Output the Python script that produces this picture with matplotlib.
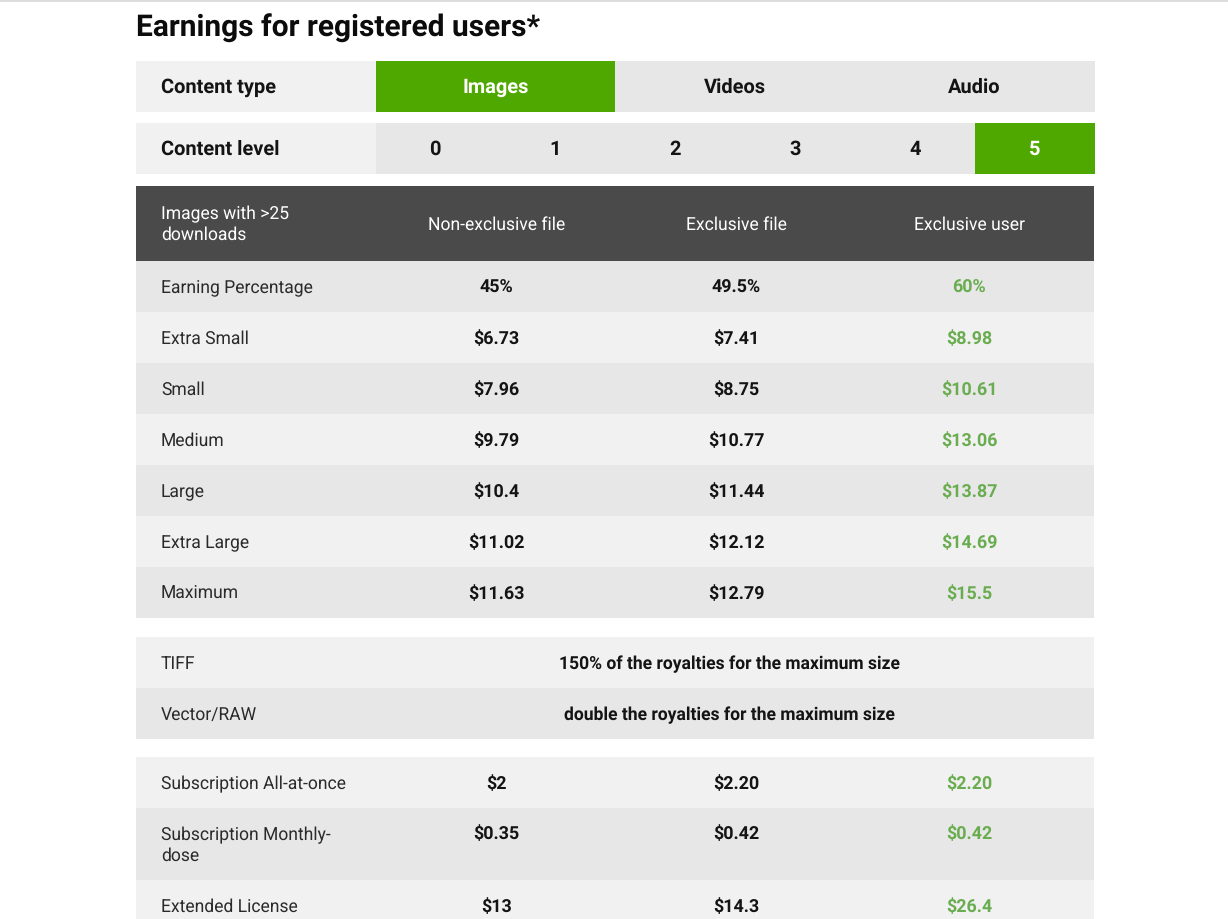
import matplotlib
matplotlib.use('Agg')
import matplotlib.pyplot as plt
from matplotlib.patches import Rectangle

plt.rcParams['font.family'] = ['Roboto', 'DejaVu Sans']
plt.rcParams['text.hinting'] = 'no_hinting'

content_types = ['Images', 'Videos', 'Audio']
content_levels = ['0', '1', '2', '3', '4', '5']
header_label = 'Images with >25\ndownloads'
columns = ['Non-exclusive file', 'Exclusive file', 'Exclusive user']

size_rows = ['Earning Percentage', 'Extra Small', 'Small', 'Medium', 'Large', 'Extra Large', 'Maximum']
non_exclusive = ['45%', '$6.73', '$7.96', '$9.79', '$10.4', '$11.02', '$11.63']
exclusive_file = ['49.5%', '$7.41', '$8.75', '$10.77', '$11.44', '$12.12', '$12.79']
exclusive_user = ['60%', '$8.98', '$10.61', '$13.06', '$13.87', '$14.69', '$15.5']

special_rows = ['TIFF', 'Vector/RAW']
special_text = ['150% of the royalties for the maximum size', 'double the royalties for the maximum size']

other_rows = ['Subscription All-at-once', 'Subscription Monthly-\ndose', 'Extended License']
other_non_exclusive = ['$2', '$0.35', '$13']
other_exclusive_file = ['$2.20', '$0.42', '$14.3']
other_exclusive_user = ['$2.20', '$0.42', '$26.4']

GREEN = '#4fa800'
TEXT_GREEN = '#6aad50'
LIGHT = '#f1f1f1'
MID = '#e7e7e7'
DARK = '#4a4a4a'
INK = '#141414'

W, H = 1228, 919
col_x = [496.5, 736, 969]
left, right = 136, 1094
label_x = 161
fs = 12.65     # plain table text
fs_val = 12.85 # values
fs_sel = 14.4  # selector rows

fig = plt.figure(figsize=(W/100, H/100), dpi=100)
ax = fig.add_axes([0, 0, 1, 1])
ax.set_xlim(0, W)
ax.set_ylim(H, 0)
ax.axis('off')


def box(x0, x1, y0, y1, color):
    ax.add_patch(Rectangle((x0, y0), x1-x0, y1-y0, facecolor=color, edgecolor='none'))


def label(x, y, s, ha='center', color=INK, weight='bold', size=fs, **kw):
    ax.text(x, y+1.5, s, ha=ha, va='center', color=color, fontweight=weight, fontsize=size, **kw)


def table_row(y0, y1, color, name, values):
    box(left, right, y0, y1, color)
    label(label_x, (y0+y1)/2, name, ha='left', color='#2a2a2a', weight='normal', linespacing=1.3)
    if values is None:
        return
    for x, v, c in zip(col_x, values, [INK, INK, TEXT_GREEN]):
        label(x, (y0+y1)/2 - (11 if '\n' in name else 0), v, color=c, size=fs_val)


# top line of the page
box(0, W, 0, 2, '#dcdcdc')
label(136, 26.5, 'Earnings for registered users*', ha='left', color='#0c0c0c', size=21.55)

# content type selector
box(left, 376, 61, 112, LIGHT)
box(376, right+1, 61, 112, MID)
box(376, 615, 61, 112, GREEN)
label(label_x, 86, 'Content type', ha='left', size=fs_sel)
for i, name in enumerate(content_types):
    x = 376 + 239.5*i + 119.5
    label(x, 86, name, color='white' if i == 0 else INK, size=fs_sel)

# content level selector
box(left, 376, 123, 174, LIGHT)
box(376, right+1, 123, 174, MID)
box(975, right+1, 123, 174, GREEN)
label(label_x, 148, 'Content level', ha='left', size=fs_sel)
for i, name in enumerate(content_levels):
    x = 376 + 120*i + 59
    label(x, 148, name, color='white' if i == 5 else INK, size=fs_sel)

# header
box(left, right, 186, 261, DARK)
label(label_x, 223, header_label, ha='left', color='white', weight='normal', linespacing=1.25)
for x, name in zip(col_x, columns):
    label(x, 223, name, color='white', weight='normal')

# sizes
for i, name in enumerate(size_rows):
    y0 = 261 + 51*i
    table_row(y0, y0+51, MID if i % 2 == 0 else LIGHT, name,
              [non_exclusive[i], exclusive_file[i], exclusive_user[i]])

# TIFF / vector
for i, name in enumerate(special_rows):
    y0 = 637 + 51*i
    table_row(y0, y0+51, LIGHT if i == 0 else MID, name, None)
    label(729, y0+25.5, special_text[i])

# subscriptions and license
other_y = [(757, 808), (808, 880), (880, 931)]
for i, name in enumerate(other_rows):
    y0, y1 = other_y[i]
    table_row(y0, y1, LIGHT if i != 1 else MID, name,
              [other_non_exclusive[i], other_exclusive_file[i], other_exclusive_user[i]])

fig.savefig('out.png', dpi=100)
